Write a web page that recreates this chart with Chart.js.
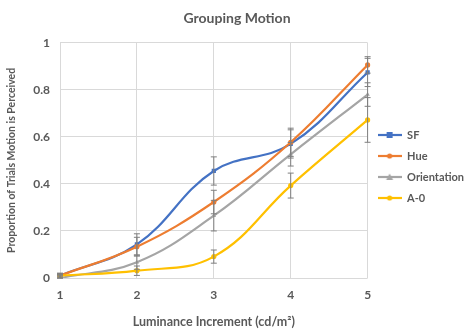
<!DOCTYPE html>
<html>
<head>
<meta charset="utf-8">
<script src="https://cdn.jsdelivr.net/npm/chart.js@4"></script>
<style>
  html, body { margin: 0; padding: 0; background: #fff; }
  #wrap { width: 474px; height: 333px; }
</style>
</head>
<body>
<div id="wrap"><canvas id="grafico"></canvas></div>
<script>
// === Datos ===
const luminancia = ["1", "2", "3", "4", "5"];
const series = ["SF", "Hue", "Orientation", "A-0"];
const valoresSF = [0.01, 0.143, 0.455, 0.57, 0.874];
const valoresHue = [0.01, 0.133, 0.323, 0.577, 0.906];
const valoresOri = [0.0, 0.067, 0.265, 0.526, 0.78];
const valoresA0 = [0.01, 0.031, 0.091, 0.393, 0.672];
// errores (simétricos)
const errSF = [0.01, 0.045, 0.06, 0.06, 0.06];
const errHue = [0.01, 0.04, 0.05, 0.06, 0.035];
const errOri = [0.01, 0.03, 0.065, 0.05, 0.05];
const errA0 = [0.005, 0.02, 0.028, 0.053, 0.095];
const ticksY = [0, 0.2, 0.4, 0.6, 0.8, 1];

const colores = ["#4472C4", "#ED7D31", "#A5A5A5", "#FFC000"];
const marcadores = ["rect", "circle", "triangle", "circle"];
const gris = "#595959";
const fuente = "Lato, 'Open Sans', sans-serif";

// === Marcador de leyenda (línea + punto) ===
function iconoLeyenda(color, estilo) {
  const c = document.createElement("canvas");
  c.width = 24; c.height = 10;
  const ctx = c.getContext("2d");
  ctx.strokeStyle = color;
  ctx.lineWidth = 2.2;
  ctx.beginPath();
  ctx.moveTo(0, 5); ctx.lineTo(24, 5);
  ctx.stroke();
  ctx.fillStyle = color;
  if (estilo === "rect") {
    ctx.fillRect(9, 2, 6, 6);
  } else if (estilo === "triangle") {
    ctx.beginPath();
    ctx.moveTo(12, 1.5); ctx.lineTo(15.5, 8); ctx.lineTo(8.5, 8);
    ctx.closePath(); ctx.fill();
  } else {
    ctx.beginPath(); ctx.arc(12, 5, 2.6, 0, Math.PI * 2); ctx.fill();
  }
  return c;
}

// === Barras de error ===
const barrasError = {
  id: "barrasError",
  afterDatasetsDraw(chart) {
    const ctx = chart.ctx;
    const y = chart.scales.y;
    ctx.save();
    ctx.strokeStyle = "#7f7f7f";
    ctx.lineWidth = 1;
    chart.data.datasets.forEach((ds, i) => {
      const meta = chart.getDatasetMeta(i);
      meta.data.forEach((pt, j) => {
        const e = ds.errores[j];
        const v = ds.data[j];
        const yTop = y.getPixelForValue(v + e);
        const yBot = y.getPixelForValue(Math.max(0, v - e));
        ctx.beginPath();
        ctx.moveTo(pt.x, yTop); ctx.lineTo(pt.x, yBot);
        ctx.moveTo(pt.x - 3, yTop); ctx.lineTo(pt.x + 3, yTop);
        ctx.moveTo(pt.x - 3, yBot); ctx.lineTo(pt.x + 3, yBot);
        ctx.stroke();
      });
    });
    ctx.restore();
  }
};

const valores = [valoresSF, valoresHue, valoresOri, valoresA0];
const errores = [errSF, errHue, errOri, errA0];

const datasets = series.map((nombre, i) => ({
  label: nombre,
  data: valores[i],
  errores: errores[i],
  borderColor: colores[i],
  backgroundColor: colores[i],
  borderWidth: 2.2,
  tension: 0.4,
  pointStyle: marcadores[i],
  pointRadius: marcadores[i] === "rect" ? 3 : 2.6,
  pointBorderWidth: 0,
  order: series.length - i
}));

new Chart(document.getElementById("grafico"), {
  type: "line",
  data: { labels: luminancia, datasets },
  options: {
    responsive: true,
    maintainAspectRatio: false,
    animation: false,
    layout: { padding: { left: 0, right: 0, top: 0, bottom: 0 } },
    plugins: {
      title: {
        display: true,
        text: "Grouping Motion",
        color: gris,
        font: { family: fuente, size: 14, weight: "bold" },
        padding: { top: 10, bottom: 16 }
      },
      legend: {
        position: "right",
        labels: {
          usePointStyle: true,
          pointStyleWidth: 24,
          boxHeight: 10,
          padding: 10,
          color: gris,
          font: { family: fuente, size: 11, weight: "bold" },
          generateLabels: (chart) => chart.data.datasets.map((ds, i) => ({
            text: ds.label,
            pointStyle: iconoLeyenda(colores[i], marcadores[i]),
            fillStyle: colores[i],
            strokeStyle: colores[i],
            lineWidth: 0,
            fontColor: gris,
            datasetIndex: i
          }))
        }
      },
      tooltip: { enabled: false }
    },
    scales: {
      x: {
        offset: false,
        grid: { color: "#d9d9d9", drawTicks: false },
        border: { display: false },
        ticks: { color: gris, padding: 10, font: { family: fuente, size: 12, weight: "bold" } },
        title: {
          display: true,
          text: "Luminance Increment (cd/m²)",
          color: gris,
          font: { family: fuente, size: 12.5, weight: "bold" },
          padding: { top: 0, bottom: 4 }
        },
        afterFit: (s) => { s.height = 55; }
      },
      y: {
        min: 0,
        max: 1,
        grid: { color: "#d9d9d9", drawTicks: false },
        border: { display: false },
        afterBuildTicks: (s) => { s.ticks = ticksY.map(v => ({ value: v })); },
        ticks: {
          color: gris,
          padding: 10,
          font: { family: fuente, size: 12, weight: "bold" },
          callback: (v) => String(v)
        },
        title: {
          display: true,
          text: "Proportion of Trials Motion is Perceived",
          color: gris,
          font: { family: fuente, size: 10.5, weight: "bold" },
          padding: { top: 5, bottom: 0 }
        },
        afterFit: (s) => { s.width = 60; }
      }
    }
  },
  plugins: [barrasError]
});
</script>
</body>
</html>
